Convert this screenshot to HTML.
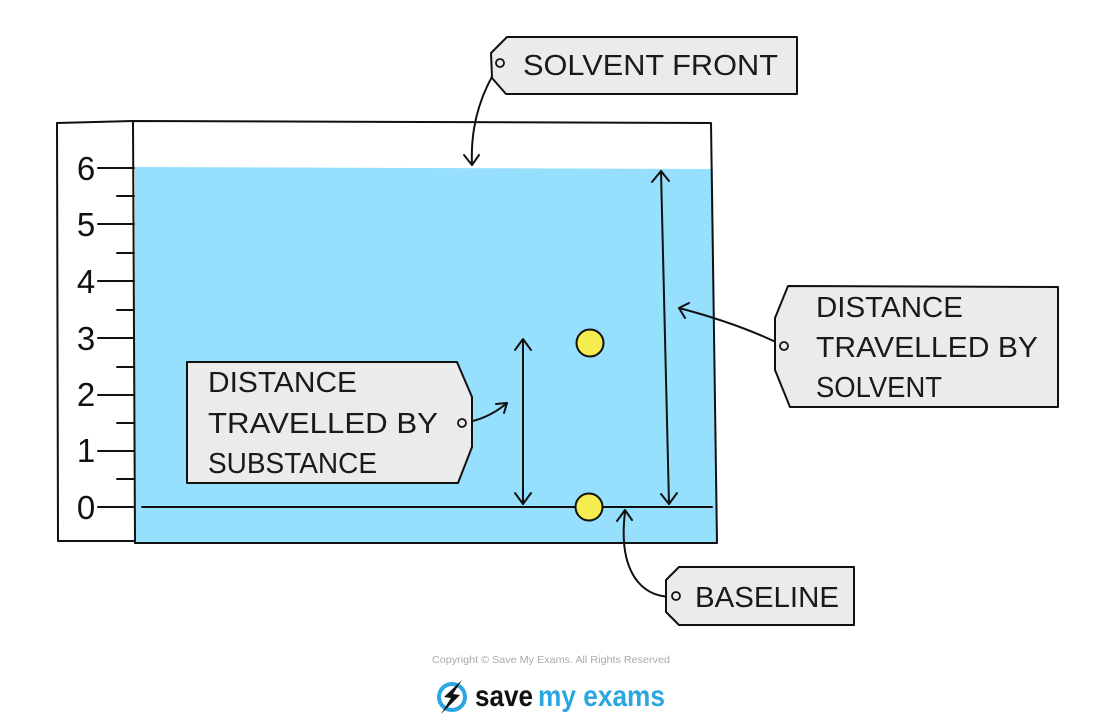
<!DOCTYPE html>
<html><head><meta charset="utf-8"><style>
html,body{margin:0;padding:0;background:#fff;}
svg{display:block;}
text{font-family:"Liberation Sans",sans-serif;}
</style></head><body>
<svg width="1100" height="728" viewBox="0 0 1100 728" xmlns="http://www.w3.org/2000/svg">
<!-- liquid -->
<polygon points="135,167 713,169 717,542 135,542" fill="#96e0fd"/>
<!-- ruler + tank outline -->
<g fill="none" stroke="#111" stroke-width="2" stroke-linecap="round" stroke-linejoin="round">
<path d="M57,123 L133,121 L711,123 L717,543 L135,543"/>
<path d="M57,123 L58,541 L135,541"/>
<path d="M133,121 L135,543"/>
<path d="M98,168H134 M98,224H134 M98,281H134 M98,338H134 M98,395H134 M98,451H134 M98,507H134"/>
<path d="M117,196H134 M117,253H134 M117,310H134 M117,367H134 M117,423H134 M117,479H134"/>
<path d="M142,507 L712,507"/>
</g>
<!-- numbers -->
<g font-size="33" fill="#111" text-anchor="middle">
<text x="86" y="180">6</text>
<text x="86" y="236">5</text>
<text x="86" y="293">4</text>
<text x="86" y="350">3</text>
<text x="86" y="406">2</text>
<text x="86" y="462">1</text>
<text x="86" y="519">0</text>
</g>
<!-- spots -->
<circle cx="590" cy="343" r="13.5" fill="#f5ec50" stroke="#111" stroke-width="2"/>
<circle cx="589" cy="507" r="13.5" fill="#f5ec50" stroke="#111" stroke-width="2"/>
<!-- arrows -->
<g fill="none" stroke="#111" stroke-width="2" stroke-linecap="round" stroke-linejoin="round">
<path d="M523,340 L523,504"/>
<polyline points="515,350 523,339 531,350"/>
<polyline points="515,493 523,504 531,493"/>
<path d="M661,171 L669,504"/>
<polyline points="652,182 661,171 669,181"/>
<polyline points="661,494 669,504 677,493"/>
<path d="M500,63 C484,88 470,120 472,165"/>
<polyline points="464,155 472,165 479,155"/>
<path d="M784,346 Q740,324 679,308"/>
<polyline points="689,303 679,308 685,318"/>
<path d="M462,423 Q487,420 507,403"/>
<polyline points="496,404 507,403 504,413"/>
<path d="M672,597 C640,597 618,570 625,512"/>
<polyline points="617,521 625,510 632,520"/>
</g>
<!-- tags -->
<g fill="#ebebeb" stroke="#111" stroke-width="2" stroke-linejoin="round">
<polygon points="507,37 797,37 797,94 506,94 492,78 491,53"/>
<polygon points="788,286 1058,287 1058,407 790,407 775,370 775,318"/>
<polygon points="187,362 457,362 472,397 472,447 458,483 187,483"/>
<polygon points="679,567 854,567 854,625 679,625 666,612 666,580"/>
</g>
<g fill="none" stroke="#111" stroke-width="1.8">
<circle cx="500" cy="63" r="4"/>
<circle cx="784" cy="346" r="4"/>
<circle cx="462" cy="423" r="4"/>
<circle cx="676" cy="596" r="4"/>
</g>
<g font-size="29" fill="#1a1a1a">
<text x="523" y="75" textLength="255" lengthAdjust="spacingAndGlyphs">SOLVENT FRONT</text>
<text x="816" y="317" textLength="147" lengthAdjust="spacingAndGlyphs">DISTANCE</text>
<text x="816" y="357" textLength="222" lengthAdjust="spacingAndGlyphs">TRAVELLED BY</text>
<text x="816" y="397" textLength="126" lengthAdjust="spacingAndGlyphs">SOLVENT</text>
<text x="208" y="392" textLength="149" lengthAdjust="spacingAndGlyphs">DISTANCE</text>
<text x="208" y="433" textLength="230" lengthAdjust="spacingAndGlyphs">TRAVELLED BY</text>
<text x="208" y="473" textLength="169" lengthAdjust="spacingAndGlyphs">SUBSTANCE</text>
<text x="695" y="607" textLength="144" lengthAdjust="spacingAndGlyphs">BASELINE</text>
</g>
<!-- footer -->
<text x="432" y="663" font-size="10.5" fill="#aaa" textLength="238" lengthAdjust="spacingAndGlyphs">Copyright © Save My Exams. All Rights Reserved</text>
<circle cx="452" cy="697" r="13" fill="none" stroke="#2aa6e0" stroke-width="4"/>
<polygon points="462,680 444,697 451,698 441,714 460,695 453,694" fill="#111"/>
<text x="475" y="706" font-size="30" font-weight="bold" fill="#111" textLength="58" lengthAdjust="spacingAndGlyphs">save</text>
<text x="538" y="706" font-size="30" font-weight="bold" fill="#2aa6e0" textLength="127" lengthAdjust="spacingAndGlyphs">my exams</text>
</svg>
</body></html>
